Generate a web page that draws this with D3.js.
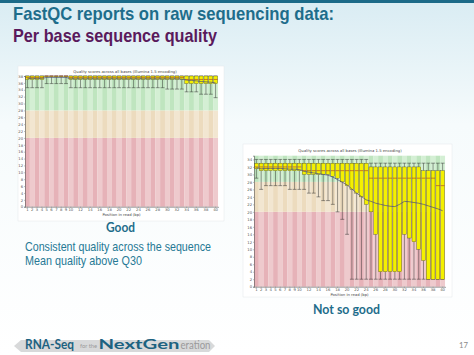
<!DOCTYPE html>
<html><head><meta charset="utf-8">
<script src="https://cdn.jsdelivr.net/npm/d3@7"></script>
<style>html,body{margin:0;padding:0;background:#fff;overflow:hidden}</style>
</head><body><svg id="s" width="474" height="355" xmlns="http://www.w3.org/2000/svg"></svg>
<script>
// ---------- data ----------
const positions = [1,2,3,4,5,6,7,8,9,10,11,12,13,14,15,16,17,18,19,20,21,22,23,24,25,26,27,28,29,30,31,32,33,34,35,36,37,38,39,40];
const xTickLabels = ["1","2","3","4","5","6","7","8","9","10","12","14","16","18","20","22","24","26","28","30","32","34","36","38","40"];
const goodYTicks = [0,2,4,6,8,10,12,14,16,18,20,22,24,26,28,30,32,34,36,38];
const poorYTicks = [0,2,4,6,8,10,12,14,16,18,20,22,24,26,28,30,32,34];
const qualityBands = [[0,20,"bad"],[20,28,"ok"],[28,99,"good"]];

// "Good" chart
const goodQ3 = [38,38,38,38,38,38,38,38,38,38,38,38,38,38,38,38,38,38,38,38,38,38,38,38,38,38,38,38,38,38,38,38,38,38,38,38,38,38,38,38];
const goodQ1 = [37,37,37,37,37.8,37.8,37.8,37.8,37.8,37,37,37,37,37,37,37,37,37,37,37,37,37,37,37,37,37,37,37,37,37,37,37,37,35.8,35.8,35.8,35.8,35.8,35.8,35.8];
const goodMedian = [37.6,37.6,37.6,37.6,38,38,38,38,38,37.6,37.6,37.6,37.6,37.6,37.6,37.6,37.6,37.6,37.6,37.6,37.6,37.6,37.6,37.6,37.6,37.6,37.6,37.6,37.6,37.6,37.6,37.6,37.6,37,37,37,37,37,37,37];
const goodLow = [34.6,34.6,34.6,34.6,35.8,35.8,35.8,35.8,35.8,34.6,34.6,34.6,34.6,34.6,34.6,34.6,34.6,34.6,34.6,34.6,34.6,34.6,34.6,34.6,34.6,34.6,34.6,34.6,34.6,34.2,34.2,34.2,34.2,33.4,33.4,33.4,32.7,32.7,32.7,31.7];
const goodHigh = [38,38,38,38,38,38,38,38,38,38,38,38,38,38,38,38,38,38,38,38,38,38,38,38,38,38,38,38,38,38,38,38,38,38,38,38,38,38,38,38];
const goodMean = [37.3,37.3,37.3,37.3,37.6,37.6,37.6,37.6,37.6,37.2,37.2,37.2,37.2,37.2,37.2,37.2,37.2,37.2,37.2,37.2,37.2,37.2,37.2,37.2,37.2,37.2,37.2,37.2,37.2,37.2,37.2,37.2,37.1,36.8,36.7,36.6,36.4,36.3,36.2,36.0];

// "Not so good" chart
const poorQ3 = [33,33,33,33,33,33,33,33,33,33,33,33,33,33,33,33,33,33,33,33,33,33,33,33,32,32,32,32,32,32,32,32,32,32,32,31,31,31,31,31];
const poorQ1 = [31.5,31,31,31,31,31,31,31,31,31,30,30,30,30,30,30,29.5,29,28,27,26,25,24,22,20,14,4,4,4,4,4,14,13,12,10,7,2,2,2,2];
const poorMedian = [32,32,32,32,32,32,32,32,32,32,31,31,31,31,31,31,31,31,31,31,31,31,31,31,29,29,29,29,29,29,29,29,29,29,29,29,29,29,27,27];
const poorLow = [29,26,27,27,27,27,27,26,26,26,26,25,25,24,23,23,22,20,18,14,2,2,2,2,2,2,2,2,2,2,2,2,2,2,2,2,2,2,2,2];
const poorHigh = [34,34,34,34,34,34,34,34,34,34,34,34,34,34,34,34,34,34,34,34,34,34,34,34,33,33,33,33,33,33,33,33,33,33,33,33,33,33,33,33];
const poorMean = [31.8,31.5,31.6,31.6,31.6,31.6,31.5,31.4,31.4,31.3,30.8,30.6,30.4,30.2,30.0,29.8,29.3,28.6,27.9,27.2,26.1,25.0,24.1,23.2,22.8,22.3,22.0,21.7,21.5,21.4,22.0,22.8,22.7,22.5,22.3,22.0,21.6,21.2,20.8,20.3];

// ---------- drawing ----------
const svg = d3.select("#s");
const defs = svg.append("defs");
const grad = defs.append("linearGradient").attr("id","bg").attr("x1",0).attr("y1",0).attr("x2",0).attr("y2",1);
grad.append("stop").attr("offset","0%").attr("stop-color","#d9ecf3");
grad.append("stop").attr("offset","35%").attr("stop-color","#f6fbfc");
grad.append("stop").attr("offset","100%").attr("stop-color","#ffffff");
svg.append("rect").attr("x",0).attr("y",0).attr("width",474).attr("height",355).attr("fill","url(#bg)");
svg.append("rect").attr("x",0).attr("y",0).attr("width",474).attr("height",3).attr("fill","#1b6a88");

const LATO = "Lato, 'Open Sans', sans-serif";
const LIB = "'Liberation Sans', Arial, sans-serif";
function txt(s, x, y, size, weight, color, len, font){
  const t = svg.append("text").attr("x",x).attr("y",y).text(s)
    .attr("font-family",font||LATO).attr("font-size",size).attr("font-weight",weight).attr("fill",color);
  if(len){ t.attr("textLength",len).attr("lengthAdjust","spacingAndGlyphs"); }
  return t;
}
txt("FastQC reports on raw sequencing data:",13,20.3,18.6,"bold","#1e6d8b",321,LIB);
txt("Per base sequence quality",13,41.5,18.6,"bold","#5a1a5c",204,LIB);

const bandColors = {bad:["#e6b2b8","#eecacd"], ok:["#ecdbbe","#f2e6d1"], good:["#bfe5bf","#d4efd4"]};

function drawQC(cfg){
  svg.append("rect").attr("x",cfg.card[0]).attr("y",cfg.card[1]).attr("width",cfg.card[2]).attr("height",cfg.card[3])
    .attr("fill","#ffffff").attr("stroke","#e4e8ea").attr("stroke-width",0.5);
  const g = svg.append("g");
  const x = d3.scaleBand().domain(positions).range([cfg.left,cfg.right]);
  const y = d3.scaleLinear().domain([0,cfg.yMax]).range([cfg.bottom,cfg.top]);
  positions.forEach((p,i)=>{
    qualityBands.forEach(b=>{
      const lo = b[0], hi = Math.min(b[1],cfg.yMax);
      g.append("rect").attr("x",x(p)).attr("width",x.bandwidth()+0.05)
        .attr("y",y(hi)).attr("height",y(lo)-y(hi))
        .attr("fill",bandColors[b[2]][i%2]);
    });
  });
  const bw = x.bandwidth()*0.82, off = (x.bandwidth()-bw)/2;
  const d = cfg.data;
  positions.forEach((p,i)=>{
    const cx = x(p)+x.bandwidth()/2;
    g.append("line").attr("x1",cx).attr("x2",cx).attr("y1",y(d.q1[i])).attr("y2",y(d.low[i])).attr("stroke","#222").attr("stroke-width",0.45);
    g.append("line").attr("x1",cx).attr("x2",cx).attr("y1",y(d.q3[i])).attr("y2",y(d.high[i])).attr("stroke","#222").attr("stroke-width",0.45);
    g.append("line").attr("x1",x(p)+off).attr("x2",x(p)+off+bw).attr("y1",y(d.low[i])).attr("y2",y(d.low[i])).attr("stroke","#222").attr("stroke-width",0.45);
    g.append("line").attr("x1",x(p)+off).attr("x2",x(p)+off+bw).attr("y1",y(d.high[i])).attr("y2",y(d.high[i])).attr("stroke","#222").attr("stroke-width",0.45);
    g.append("rect").attr("x",x(p)+off).attr("width",bw).attr("y",y(d.q3[i])).attr("height",Math.max(0.3,y(d.q1[i])-y(d.q3[i])))
      .attr("fill","#f4f000").attr("stroke","#3a3a20").attr("stroke-width",0.35);
    g.append("line").attr("x1",x(p)+off).attr("x2",x(p)+off+bw).attr("y1",y(d.median[i])).attr("y2",y(d.median[i])).attr("stroke","#a8332b").attr("stroke-width",0.6);
  });
  const line = d3.line().x((v,i)=>x(positions[i])+x.bandwidth()/2).y(v=>y(v));
  g.append("path").attr("d",line(d.mean)).attr("fill","none").attr("stroke","#4a4a7a").attr("stroke-width",0.7);
  const ya = d3.axisLeft(y).tickValues(cfg.yTicks).tickSize(1).tickPadding(0.8);
  const yg = g.append("g").attr("transform",`translate(${cfg.left},0)`).call(ya);
  const xVals = xTickLabels.map(Number);
  const xa = d3.axisBottom(x).tickValues(xVals).tickSize(1).tickPadding(0.8);
  const xg = g.append("g").attr("transform",`translate(0,${cfg.bottom})`).call(xa);
  [yg,xg].forEach(a=>{
    a.selectAll("text").attr("font-size",3.8).attr("font-family","'DejaVu Sans', sans-serif").attr("fill","#555");
    a.selectAll("line").attr("stroke","#666").attr("stroke-width",0.4);
    a.select(".domain").attr("stroke","#555").attr("stroke-width",0.6);
  });
  g.append("text").attr("x",cfg.titleX).attr("y",cfg.top-3.5).attr("text-anchor","middle")
    .attr("font-size",3.8).attr("font-family","'DejaVu Sans', sans-serif").attr("fill","#444")
    .text("Quality scores across all bases (Illumina 1.5 encoding)");
  g.append("text").attr("x",(cfg.left+cfg.right)/2).attr("y",cfg.bottom+9.5).attr("text-anchor","middle")
    .attr("font-size",3.8).attr("font-family","'DejaVu Sans', sans-serif").attr("fill","#444")
    .text("Position in read (bp)");
}

drawQC({card:[18,66,206,155], left:25, right:218, top:76, bottom:206.7, yMax:38, yTicks:goodYTicks, titleX:125,
  data:{q1:goodQ1,q3:goodQ3,median:goodMedian,low:goodLow,high:goodHigh,mean:goodMean}});
drawQC({card:[243,144,209,153], left:254, right:445, top:155.7, bottom:286.7, yMax:35, yTicks:poorYTicks, titleX:350,
  data:{q1:poorQ1,q3:poorQ3,median:poorMedian,low:poorLow,high:poorHigh,mean:poorMean}});

txt("Good",106,231.5,12.5,"bold","#1e6d8b",29);
txt("Consistent quality across the sequence",25,251.2,12.4,"normal","#267995",186,LIB);
txt("Mean quality above Q30",25,265.2,12.4,"normal","#267995",117,LIB);
txt("Not so good",313,314,12.5,"bold","#1e6d8b",67);

// footer logo
svg.append("path").attr("d","M21,340 L209,340 L215,346 L209,352 L21,352 L14,346 Z").attr("fill","#d8d9da");
txt("RNA-Seq",25,349,13,"bold","#1d6280",49);
txt("for the",80,348,6,"normal","#9a9a9a",17);
txt("NextGen",98.5,349.3,14,"bold","#1d6280",81);
txt("eration",180.5,349.3,12,"normal","#9a9a9a",30);
txt("17",459,347.5,8,"normal","#8a8a8a",9);
</script></body></html>
